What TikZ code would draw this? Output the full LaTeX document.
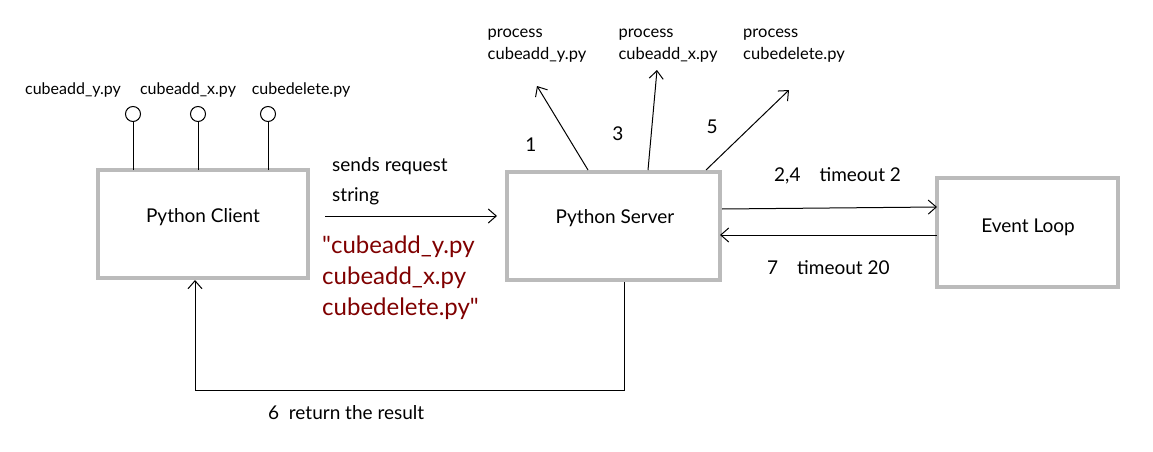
\documentclass[tikz,border=0pt]{standalone}
\usepackage{fontspec}
\setmainfont{Lato}
\usetikzlibrary{arrows.meta}
\definecolor{bx}{HTML}{BBBBBB}
\definecolor{dred}{HTML}{7F0000}
\begin{document}
\begin{tikzpicture}[x=1pt,y=-1pt,
  box/.style={draw=bx,line width=3.5pt,inner sep=0pt},
  arr/.style={-{Straight Barb[length=8pt,width=14pt]},line width=1pt},
  t/.style={font=\fontsize{19}{24}\selectfont,inner sep=0pt},
  s/.style={font=\fontsize{16}{19}\selectfont,inner sep=0pt,align=left},
  p/.style={font=\fontsize{16.5}{22}\selectfont,inner sep=0pt,align=left}]
\useasboundingbox (0,0) rectangle (1153,452);
\node[box,minimum width=210pt,minimum height=108pt] (cl) at (203,224) {};
\node[t] at (203,217) {Python Client};
\node[box,minimum width=213pt,minimum height=108pt] (sv) at (613.5,226) {};
\node[t] at (615,218) {Python Server};
\node[box,minimum width=181pt,minimum height=109pt] (ev) at (1027.5,232.5) {};
\node[t] at (1028,227) {Event Loop};
% pins
\foreach \x/\n in {133/a,198/b,268/c}{
  \draw[line width=1pt] (\x,170) -- (\x,122);
  \node[draw,circle,line width=1pt,minimum size=15pt,inner sep=0pt] (p\n) at (\x,114) {};
}
\node[s] at (73,90) {cubeadd\_y.py};
\node[s] at (188,90) {cubeadd\_x.py};
\node[s] at (301,90) {cubedelete.py};
% request
\coordinate (r1) at (325,216);
\draw[arr] (r1) -- (497,216);
\node[t,anchor=north west,align=left,font=\fontsize{19}{30}\selectfont] at (332,157) {sends request\\string};
\node[anchor=north west,align=left,inner sep=0pt,text=dred,font=\fontsize{24}{31}\selectfont] at (322,236) {\textquotedbl cubeadd\_y.py\\cubeadd\_x.py\\cubedelete.py\textquotedbl};
% process arrows
\coordinate (q1) at (537,86); \coordinate (q2) at (657,70); \coordinate (q3) at (789,90);
\draw[arr] (588,170) -- (q1);
\draw[arr] (648,170) -- (q2);
\draw[arr] (706,170) -- (q3);
\node[t] at (531,145) {1};
\node[t] at (618,134) {3};
\node[t] at (712,127) {5};
\node[p] at (537,46) {process\\cubeadd\_y.py};
\node[p] at (668,46) {process\\cubeadd\_x.py};
\node[p] at (794,46) {process\\cubedelete.py};
% event loop
\draw[arr] (722,209) -- (937,207);
\draw[arr] (937,235) -- (720,235);
\node[t,anchor=west] at (774,176) {2,4\quad timeout 2};
\node[t,anchor=west] at (767,268) {7\quad timeout 20};
% return
\draw[arr] (624,282) -- (624,390) -- (195,390) -- (195,280);
\node[t,anchor=west] at (268,413) {6\ \ return the result};
\end{tikzpicture}
\end{document}
